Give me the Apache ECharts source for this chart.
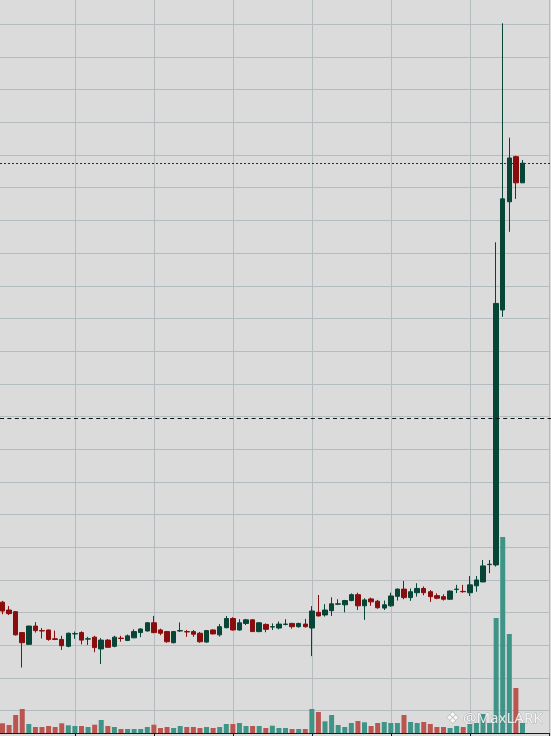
<!DOCTYPE html>
<html><head><meta charset="utf-8">
<style>html,body{margin:0;padding:0;background:#dbdbdb;overflow:hidden}#c{width:551px;height:736px}</style>
<script src="https://cdn.jsdelivr.net/npm/echarts@6/dist/echarts.min.js"></script>
</head><body><div id="c"></div>
<script>
// OHLC per session (price units), oldest first
const opens  = [4.32,4.08,4.03,3.39,3.03,3.59,3.45,3.47,3.20,3.18,2.97,3.35,3.39,3.19,3.25,2.89,3.16,2.97,3.22,3.15,
                3.23,3.39,3.44,3.69,3.47,3.42,3.08,3.44,3.42,3.42,3.37,3.10,3.47,3.32,3.54,3.82,3.47,3.67,3.78,3.42,
                3.64,3.56,3.53,3.64,3.67,3.57,3.65,3.53,4.01,3.93,4.06,4.26,4.24,4.37,4.55,4.21,4.42,4.35,4.14,4.21,
                4.50,4.72,4.46,4.61,4.74,4.64,4.52,4.49,4.41,4.71,4.65,4.61,4.82,4.94,5.47,5.46,13.26,16.57,17.95,17.15];
const closes = [4.05,3.97,3.32,3.08,3.59,3.45,3.44,3.18,3.18,2.99,3.37,3.36,3.16,3.20,2.93,3.16,2.94,3.25,3.21,3.29,
                3.42,3.50,3.69,3.39,3.37,3.11,3.42,3.45,3.41,3.34,3.11,3.45,3.35,3.57,3.82,3.47,3.69,3.78,3.42,3.69,
                3.49,3.57,3.65,3.65,3.57,3.67,3.57,4.05,3.90,4.08,4.27,4.27,4.37,4.55,4.21,4.39,4.33,4.15,4.24,4.51,
                4.72,4.46,4.64,4.74,4.61,4.49,4.44,4.41,4.66,4.72,4.64,4.85,5.00,5.43,5.48,13.46,16.66,17.91,17.15,17.75];
const lows   = [3.95,3.93,3.30,2.32,3.01,3.39,3.21,3.14,3.16,2.86,2.94,3.20,3.03,3.01,2.79,2.43,2.92,2.94,3.11,3.13,
                3.22,3.25,3.42,3.37,3.31,3.08,3.06,3.41,3.26,3.26,3.08,3.08,3.33,3.27,3.52,3.45,3.45,3.62,3.41,3.40,
                3.40,3.47,3.49,3.61,3.51,3.54,3.54,2.67,3.88,3.88,3.90,4.23,4.01,4.35,4.08,3.78,4.21,4.12,4.08,4.18,
                4.37,4.41,4.36,4.49,4.53,4.33,4.41,4.37,4.39,4.60,4.61,4.51,4.64,4.93,5.21,5.41,13.05,15.65,16.66,17.15];
const highs  = [4.36,4.20,4.05,3.41,3.60,3.71,3.53,3.48,3.45,3.29,3.39,3.42,3.43,3.26,3.29,3.22,3.19,3.29,3.29,3.33,
                3.49,3.52,3.71,3.90,3.51,3.44,3.44,3.70,3.47,3.47,3.41,3.47,3.49,3.65,3.90,3.86,3.80,3.81,3.80,3.71,
                3.67,3.67,3.73,3.80,3.69,3.69,3.81,4.20,4.54,4.26,4.47,4.41,4.39,4.59,4.61,4.44,4.46,4.39,4.37,4.61,
                4.74,4.97,4.74,4.90,4.80,4.69,4.59,4.56,4.68,4.85,4.85,5.12,5.12,5.61,5.61,15.33,22.03,18.53,17.98,17.85];
// volume per session (arbitrary units)
const volumes = [97,80,180,240,90,60,60,70,60,97,77,70,70,60,83,130,70,60,40,40,
                 40,40,60,83,50,60,50,70,60,60,50,60,50,60,90,90,100,70,70,70,
                 50,73,50,50,40,40,40,240,210,117,180,80,60,100,120,107,70,100,110,100,
                 100,180,110,100,110,90,60,60,50,70,60,97,100,190,100,1150,1960,990,450,100];
const leadSlots = 1;           // one session scrolled off the left edge
const emptySlots = 4;          // blank sessions to the right of the last candle
const levelLine = 9.96;        // dashed horizontal level
const gridEvery = 12;          // vertical grid line every 12 sessions

const categories = [];
for (let i = 0; i < leadSlots + opens.length + emptySlots; i++) categories.push('S' + i);

const upC = '#074536', downC = '#8a0c0c';
const volUp = '#3f9488', volDown = '#bb5550';

const lead = new Array(leadSlots).fill('-');
const candleData = lead.concat(opens.map((o, i) => [o, closes[i], lows[i], highs[i]]));
const volData = lead.concat(volumes.map((v, i) => ({
  value: v,
  itemStyle: { color: closes[i] >= opens[i] ? volUp : volDown }
})));
const lastClose = closes[closes.length - 1];

const priceMin = 0.318, priceMax = 22.804;
const chart = echarts.init(document.getElementById('c'), null, { renderer: 'canvas' });
const onGrid = (i) => i % gridEvery === 0;
chart.setOption({
  animation: false,
  backgroundColor: '#dbdbdb',
  grid: [
    { left: -4.08, right: 2.2, top: -2, bottom: 3, outerBoundsMode: 'none' },
    { left: 0, right: 0, top: -2, bottom: 3, outerBoundsMode: 'none' }
  ],
  xAxis: [
    {
      type: 'category', gridIndex: 0, data: categories, boundaryGap: false,
      axisLine: { show: true, lineStyle: { color: '#1b1b1b', width: 1 } },
      axisTick: { show: true, interval: onGrid, length: 3, lineStyle: { color: '#1b1b1b' } },
      axisLabel: { show: false },
      splitLine: { show: true, interval: onGrid, lineStyle: { color: '#b5bcc0', width: 1 } }
    },
    { type: 'value', gridIndex: 1, show: false, min: 0, max: 1 }
  ],
  yAxis: [
    {
      type: 'value', gridIndex: 0, min: priceMin, max: priceMax,
      splitNumber: 22, minInterval: 1, maxInterval: 1,
      axisLine: { show: false }, axisTick: { show: false }, axisLabel: { show: false },
      splitLine: { show: true, lineStyle: { color: '#b5bcc0', width: 1 } }
    },
    {
      type: 'value', gridIndex: 0, min: 0, max: 7350, show: false,
      splitLine: { show: false }
    },
    { type: 'value', gridIndex: 1, min: priceMin, max: priceMax, show: false, splitLine: { show: false } }
  ],
  series: [
    {
      type: 'bar', xAxisIndex: 0, yAxisIndex: 1, data: volData,
      barWidth: 5, clip: false, z: 2, silent: true
    },
    {
      type: 'candlestick', xAxisIndex: 0, yAxisIndex: 0, data: candleData,
      barWidth: 5, clip: false, z: 3, silent: true,
      itemStyle: { color: upC, color0: downC, borderColor: upC, borderColor0: downC, borderWidth: 1 }
    },
    {
      type: 'line', xAxisIndex: 1, yAxisIndex: 2, data: [], silent: true, z: 4,
      markLine: {
        silent: true, symbol: ['none', 'none'], label: { show: false }, animation: false,
        data: [
          { yAxis: lastClose, lineStyle: { color: '#0b3b2e', type: [2, 2], width: 1 } },
          { yAxis: levelLine, lineStyle: { color: '#111111', type: [4, 3.4], width: 1 } }
        ]
      }
    }
  ],
  graphic: [
    {
      type: 'text', right: 8, bottom: 9, z: 100, silent: true,
      style: {
        text: '❖ @MaxLARK', font: '15px "Noto Sans", sans-serif',
        fill: 'rgba(255,255,255,0.82)', stroke: 'rgba(110,110,110,0.35)', lineWidth: 1
      }
    }
  ]
});
</script></body></html>
